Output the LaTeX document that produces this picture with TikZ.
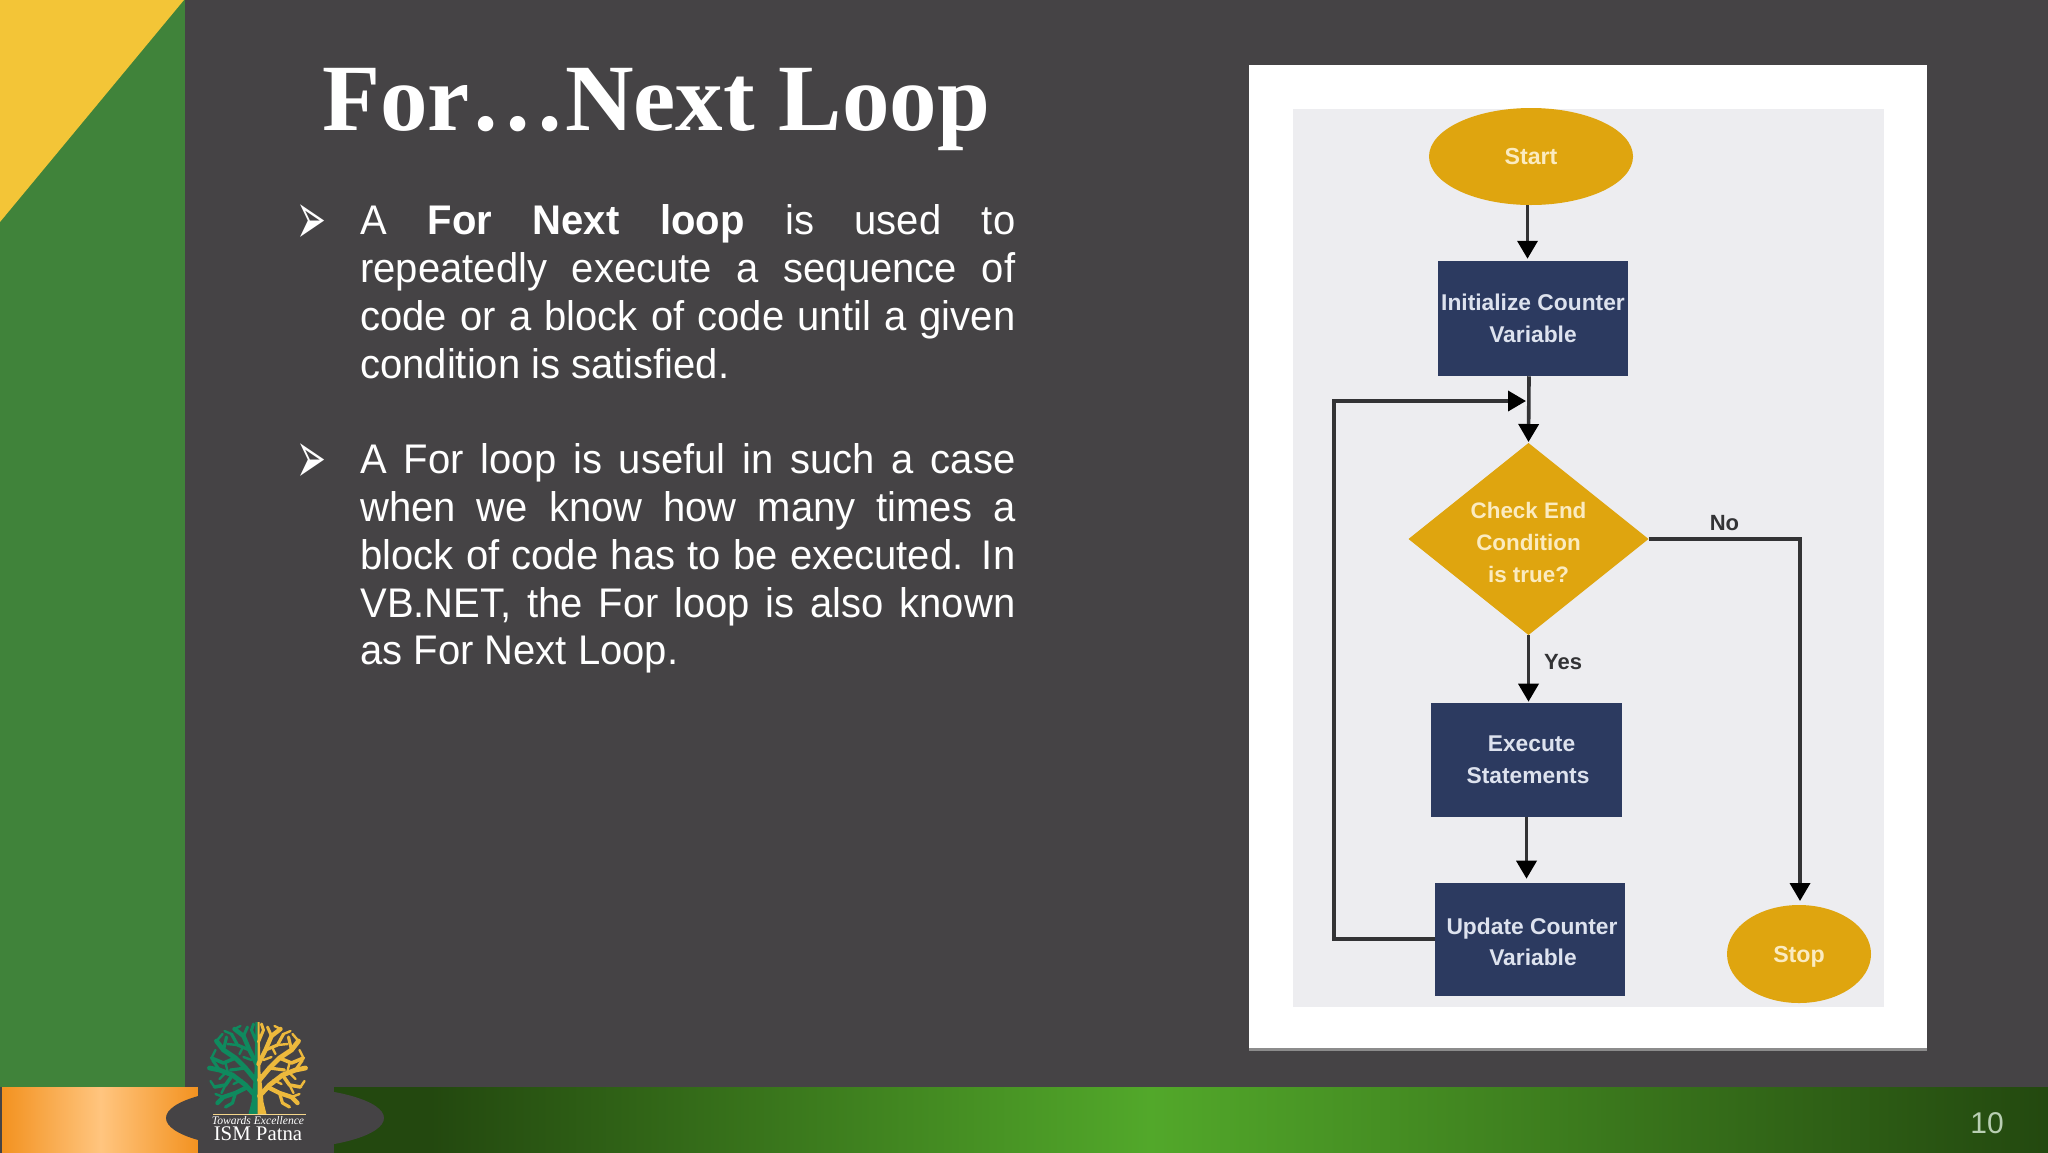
\documentclass[tikz,border=0pt]{standalone}
\usepackage{fontspec}
\usepackage{graphicx}
\setmainfont{Liberation Sans}
\newfontfamily\bodyface[FakeStretch=0.966]{Liberation Sans}
\newfontfamily\serifface{Liberation Serif}
\newfontfamily\symface{DejaVu Sans}
\usetikzlibrary{shapes.geometric,arrows.meta,calc}
\definecolor{slidebg}{HTML}{454345}
\definecolor{sidegreen}{HTML}{40833A}
\definecolor{cornery}{HTML}{F3C537}
\definecolor{panelgray}{HTML}{EDEDF0}
\definecolor{navybox}{HTML}{2C3A60}
\definecolor{goldbox}{HTML}{DFA50F}
\definecolor{flowline}{HTML}{333335}
\definecolor{goldtext}{HTML}{FBEBC0}
\definecolor{navytext}{HTML}{DDE2EE}
\definecolor{orangeedge}{HTML}{F39220}
\definecolor{orangemid}{HTML}{FFC57F}
\definecolor{banddark}{HTML}{23480F}
\definecolor{bandbright}{HTML}{52A82A}
\definecolor{treegreen}{HTML}{0F8A5E}
\definecolor{treeyellow}{HTML}{EDB93C}
\definecolor{pagenum}{HTML}{B9CFB3}
\tikzset{
  boxnode/.style={rectangle,fill=navybox,inner sep=0pt,outer sep=0pt,text=navytext,align=center,
    font=\fontsize{11.4}{15.75}\selectfont\bfseries},
  capsule/.style={ellipse,fill=goldbox,inner sep=0pt,outer sep=0pt,text=goldtext,align=center,
    font=\fontsize{11.6}{15.75}\selectfont\bfseries},
  decision/.style={diamond,fill=goldbox,inner sep=0pt,outer sep=0pt,text=goldtext,align=center,
    font=\fontsize{11.2}{16}\selectfont\bfseries},
  flow/.style={draw=flowline,line width=1.8pt,line join=miter,-{Triangle[length=9pt,width=10pt,color=black]}},
  flowlabel/.style={text=flowline,inner sep=0pt,font=\fontsize{11}{12}\selectfont\bfseries},
  bodytext/.style={text=white,inner sep=0pt,anchor=north west,text width=327.5pt,align=justify,
    font=\bodyface\fontsize{20.7}{23.85}\selectfont},
  bulletmark/.style={text=white,inner sep=0pt,anchor=base west,font=\symface\fontsize{17}{17}\selectfont},
  branch/.style={line cap=round,line join=round}
}
\newcommand{\bulletglyph}{\scalebox{1.05}[2.2]{➢}}
\newcommand{\halftree}[1]{%
  \fill[#1] (0,42) -- (9,42) -- (6,30) -- (5,18) -- (3,0) -- (2,-50) -- (0,-50) -- cycle;
  \begin{scope}[draw=#1,branch]
  \draw[line width=2.4pt] (2,24) -- (12,13) -- (25,3) -- (38,-2) -- (48,-4);
  \draw[line width=1.8pt] (25,3) -- (32,13) -- (43,15);
  \draw[line width=1.5pt] (38,-2) -- (45,-12);
  \draw[line width=2.2pt] (10,15) -- (22,21) -- (34,25) -- (40,31);
  \draw[line width=1.6pt] (22,21) -- (25,31) -- (32,35);
  \draw[line width=2.4pt] (2,8) -- (12,-4) -- (22,-14) -- (34,-22) -- (41,-31);
  \draw[line width=1.8pt] (22,-14) -- (34,-9) -- (46,-14);
  \draw[line width=1.6pt] (12,-4) -- (27,-2);
  \draw[line width=1.6pt] (34,-22) -- (31,-35);
  \draw[line width=2.2pt] (1,-8) -- (8,-22) -- (14,-36) -- (23,-43);
  \draw[line width=1.6pt] (8,-22) -- (20,-27) -- (26,-38);
  \draw[line width=1.5pt] (14,-36) -- (10,-45);
  \draw[line width=1.5pt] (1,-30) -- (6,-42) -- (4,-48);
  % twigs that fill the crown
  \draw[line width=1.2pt] (32,13) -- (36,21);
  \draw[line width=1.2pt] (43,15) -- (47,9);
  \draw[line width=1.2pt] (32,-9) -- (30,-1) -- (38,7);
  \draw[line width=1.2pt] (46,-14) -- (42,-22);
  \draw[line width=1.2pt] (41,-31) -- (35,-38);
  \draw[line width=1.2pt] (20,-27) -- (30,-28);
  \draw[line width=1.2pt] (23,-43) -- (17,-46);
  \draw[line width=1.2pt] (26,-38) -- (33,-41);
  \draw[line width=1.2pt] (14,-15) -- (6,-12);
  \draw[line width=1.2pt] (34,25) -- (42,22);
  \draw[line width=1.2pt] (16,8) -- (24,12);
  \draw[line width=1.2pt] (18,-18) -- (15,-24);
  \end{scope}
}
\begin{document}
\begin{tikzpicture}[x=0.5pt,y=-0.5pt]
\useasboundingbox (0,0) rectangle (2048,1152);
% background
\fill[slidebg] (-4,-4) rectangle (2052,1158);
\fill[sidegreen] (-4,-4) rectangle (184.5,1087);
\fill[cornery] (-4,-4) -- (187.3,-4) -- (-4,226.8) -- cycle;
% bottom band
\shade[left color=orangeedge,right color=orangemid] (2,1087) rectangle (101,1158);
\shade[left color=orangemid,right color=orangeedge] (100.5,1087) rectangle (198,1158);
\fill[banddark] (334,1087) rectangle (430,1158);
\shade[left color=banddark,right color=bandbright] (429.5,1087) rectangle (1150,1158);
\shade[left color=bandbright,right color=banddark] (1149.5,1087) rectangle (2052,1158);
\fill[slidebg] (275,1118) ellipse [x radius=109,y radius=31];
\fill[slidebg] (198,1087) rectangle (334,1158);
% logo
\begin{scope}[shift={(257.5,1072)}]
  \begin{scope}[xscale=-1]\halftree{treegreen}\end{scope}
  \halftree{treeyellow}
\end{scope}
\draw[treeyellow!60!white,line width=0.4pt] (213,1114) -- (306,1114);
\node[text=white,inner sep=0pt,anchor=base] (motto) at (258,1124)
  {\serifface\itshape\fontsize{5.8}{7}\selectfont Towards Excellence};
\node[text=white,inner sep=0pt,anchor=base] (brand) at (258,1140.5)
  {\serifface\fontsize{10.4}{11}\selectfont ISM Patna};
\node[text=pagenum,inner sep=0pt,anchor=base west] (pageno) at (1970,1133)
  {\fontsize{15}{15}\selectfont 10};
% title
\node[text=white,inner sep=0pt,anchor=base west] (title) at (322,130)
  {\serifface\bfseries\fontsize{47.5}{50}\selectfont For…Next Loop};
% bullets and body
\node[bulletmark] (bulletA) at (296,244) {\bulletglyph};
\node[bulletmark] (bulletB) at (296,483) {\bulletglyph};
\node[bodytext] (paraA) at (360,204.5) {A \textbf{For Next loop} is used to\linebreak
repeatedly execute a sequence of\linebreak
code or a block of code until a given\linebreak
condition is satisfied.};
\node[bodytext] (paraB) at (360,443.5) {A For loop is useful in such a case\linebreak
when we know how many times a\linebreak
block of code has to be executed. In\linebreak
VB.NET, the For loop is also known\linebreak
as For Next Loop.};
% flowchart frame
\fill[black!45] (1249,66) rectangle (1927,1051);
\fill[white] (1249,65) rectangle (1926.5,1048);
\fill[panelgray] (1292.5,109) rectangle (1884,1007);
% flowchart nodes
\node[capsule,minimum width=102pt,minimum height=48.5pt] (start) at (1531,156.5) {Start};
\node[boxnode,minimum width=95.25pt,minimum height=57.75pt] (init) at (1533,318.5) {Initialize Counter\\Variable};
\node[decision,minimum width=120pt,minimum height=96pt,shape aspect=1.25] (check) at (1528.5,539) {\rule{0pt}{12pt}Check End\\Condition\\is true?};
\node[boxnode,minimum width=95.25pt,minimum height=57pt] (exec) at (1526.5,759.7) {\hspace*{5pt}Execute\\\hspace*{1.5pt}Statements};
\node[boxnode,minimum width=95pt,minimum height=56.5pt] (update) at (1530,939.2) {\rule{0pt}{11pt}\hspace*{2pt}Update Counter\\\hspace*{3pt}Variable};
\node[capsule,minimum width=72pt,minimum height=49pt] (stop) at (1799,954) {\rule{0pt}{10.5pt}Stop};
% labels
\node[flowlabel] (nolabel) at (1724.5,523) {No};
\node[flowlabel] (yeslabel) at (1563,662) {Yes};
% connectors
\coordinate (merge) at (1526,401);
\coordinate (leftrail) at (1334,401);
\coordinate (rightrail) at (1800,539);
\draw[flow] ([xshift=-1.75pt]start.south) -- ([xshift=-2.75pt,yshift=1pt]init.north);
\draw[flow] ([xshift=-2pt]init.south) -- ([yshift=.5pt]check.north);
\draw[flow] (update.west) -- (update.west -| leftrail) -- (leftrail) -- (merge);
\draw[flow] (check.south) -- ([xshift=1pt,yshift=.5pt]exec.north);
\draw[flow] (exec.south) -- ([xshift=-1.75pt,yshift=2pt]update.north);
\draw[flow] (check.east) -- (rightrail) -- ([xshift=.5pt,yshift=2pt]stop.north);
\end{tikzpicture}
\end{document}
